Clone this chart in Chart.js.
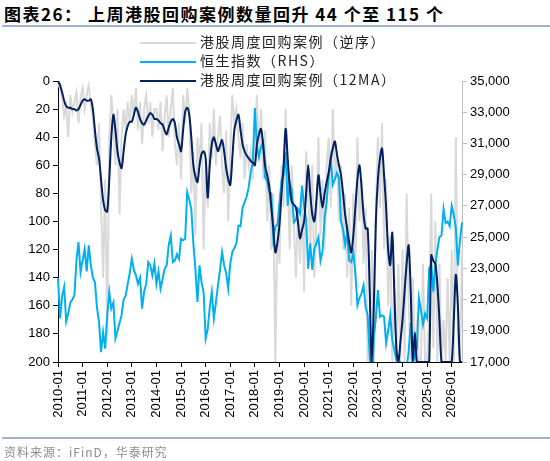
<!DOCTYPE html>
<html>
<head>
<meta charset="utf-8">
<script src="https://cdn.jsdelivr.net/npm/chart.js@4"></script>
<style>
  body { margin: 0; width: 550px; height: 461px; background: #fff; font-family: "Liberation Sans", "Noto Sans CJK SC", sans-serif; position: relative; overflow: hidden; }
  .title { position: absolute; left: 4px; top: 1px; font-size: 17px; font-weight: bold; font-family: "Noto Sans CJK SC", sans-serif; color: #000; letter-spacing: 1.5px; }
  .rule { position: absolute; left: 2px; right: 0; height: 2px; background: #9db3cf; }
  .source { position: absolute; left: 4px; top: 443px; font-size: 12px; color: #8c8c8c; font-family: "Noto Sans CJK SC", sans-serif; letter-spacing: 1px; }
  .legend { position: absolute; left: 140px; top: 32px; font-size: 14px; font-family: "Noto Sans CJK SC", sans-serif; color: #222; letter-spacing: 1.5px; }
  .legend div { height: 19px; line-height: 19px; white-space: nowrap; }
  .legend span { display: inline-block; width: 56px; height: 2px; vertical-align: middle; margin-right: 4px; }
  #wrap { position: absolute; left: 0; top: 30px; width: 550px; height: 410px; }
</style>
</head>
<body>
<div class="title">图表26：&nbsp;上周港股回购案例数量回升 44 个至 115 个</div>
<div class="rule" style="top:25px"></div>
<div id="wrap"><canvas id="chart"></canvas></div>
<div class="legend">
  <div><span style="background:#d9d9d9"></span>港股周度回购案例（逆序）</div>
  <div><span style="background:#00b0f0"></span>恒生指数（RHS）</div>
  <div><span style="background:#002060"></span>港股周度回购案例（12MA）</div>
</div>
<div class="rule" style="top:437px"></div>
<div class="source">资料来源：iFinD，华泰研究</div>
<script>
// monthly points, 2010-01 .. 2026-06
const years = [2010, 2011, 2012, 2013, 2014, 2015, 2016, 2017, 2018, 2019, 2020, 2021, 2022, 2023, 2024, 2025, 2026];

const buybackWeekly = [
  2, 5, 12, 25, 18, 40, 10, 22, 15, 8, 30, 12,
  5, 20, 10, 3, 18, 25, 45, 60, 30, 90, 140, 70,
  180, 40, 10, 30, 60, 20, 95, 40, 20, 35, 15, 30,
  10, 25, 5, 35, 15, 45, 20, 10, 30, 15, 40, 20,
  20, 35, 15, 50, 25, 10, 40, 20, 5, 45, 60, 30,
  70, 10, 30, 5, 20, 80, 50, 110, 40, 60, 30, 120,
  60, 90, 30, 55, 20, 60, 40, 25, 60, 80, 35, 100,
  50, 10, 30, 20, 40, 55, 30, 70, 45, 60, 50, 70,
  40, 10, 55, 20, 70, 35, 100, 60, 120, 80, 200, 100,
  130, 60, 90, 20, 70, 120, 60, 100, 140, 90, 130, 80,
  150, 50, 80, 120, 60, 140, 100, 40, 110, 70, 120, 60,
  40, 90, 20, 70, 50, 100, 60, 120, 80, 140, 90, 160,
  80, 140, 40, 100, 70, 130, 90, 200, 180, 120, 200, 90,
  40, 90, 30, 120, 70, 160, 110, 200, 140, 200, 130, 200,
  120, 200, 80, 160, 200, 140, 200, 170, 200, 200, 130, 200,
  200, 160, 80, 190, 100, 200, 130, 200, 170, 200, 140, 200,
  120, 200, 40, 180, 200, 120
];

const hsi = [
  22370, 19800, 21200, 21800, 19600, 20100, 20800, 21000, 21270, 23500, 24680, 22760,
  23500, 24250, 22800, 24470, 23200, 22400, 22120, 20500, 19570, 17630, 18900, 17850,
  20000, 21480, 20420, 20800, 18500, 19000, 19500, 20000, 21000, 21270, 22000, 22700,
  23620, 22900, 22550, 22000, 22400, 20420, 21500, 22000, 23400, 23200, 22550, 23300,
  22000, 22800, 21700, 22300, 22970, 23200, 24500, 25100, 23400, 23500, 23900, 23600,
  24890, 24800, 24900, 27880, 27400, 26810, 24600, 22970, 20850, 23190, 22100, 21480,
  18500, 19100, 20500, 21480, 19800, 20800, 21900, 22900, 24040, 23200, 22700, 21700,
  23300, 24040, 24300, 24600, 25740, 25700, 26900, 27240, 27600, 28200, 29200, 29800,
  33270, 30800, 30100, 30800, 31080, 28800, 28600, 27900, 27800, 24900, 25700, 25800,
  27200, 28600, 29000, 30440, 27000, 28500, 28000, 25950, 26100, 26800, 26500, 28300,
  27000, 26100, 22970, 24600, 22900, 24250, 24600, 25000, 23500, 24100, 26200, 27200,
  28950, 30000, 28350, 28700, 29100, 28800, 26000, 25500, 24500, 25300, 23500, 23400,
  24000, 22700, 20640, 21100, 21400, 21910, 20500, 20000, 17500, 15000, 18600, 19800,
  21600, 19900, 20000, 19900, 18200, 19000, 20000, 18400, 17800, 17100, 17000, 17000,
  15500, 16500, 16600, 17700, 19500, 18000, 17300, 17900, 21100, 20300, 19400, 20100,
  19800, 23000, 23200, 21500, 23200, 24200, 25000, 25100, 26800, 25900, 26000, 25700,
  27000, 26400, 25600, 23190, 24800, 25950
];

const buyback12MA = [
  0, 3, 8, 14, 18, 19, 19, 20, 20, 21, 20, 17,
  14, 13, 14, 14, 13, 20, 35, 48, 55, 70, 85, 92,
  93, 70, 40, 24, 35, 50, 58, 62, 50, 38, 32, 29,
  29, 24, 19, 22, 27, 30, 31, 28, 25, 23, 24, 27,
  27, 28, 30, 31, 35, 38, 33, 29, 27, 30, 40, 45,
  50, 35, 22, 19, 24, 40, 60, 68, 72, 60, 52, 50,
  55, 83, 60, 45, 40, 45, 50, 46, 42, 50, 62, 70,
  74, 55, 35, 28, 24, 35, 45, 50, 53, 55, 57, 58,
  60, 45, 38, 34, 45, 60, 67, 75, 90, 105, 122, 115,
  102, 80, 60, 34, 55, 75, 86, 88, 90, 100, 112, 106,
  100, 80, 60, 80, 95, 100, 85, 67, 80, 90, 80, 72,
  65, 55, 48, 43, 52, 60, 67, 80, 95, 105, 115, 122,
  110, 90, 70, 60, 75, 95, 105, 105, 150, 200, 160, 100,
  70, 55, 48, 67, 90, 120, 131, 108, 150, 190, 200, 185,
  170, 150, 130, 117, 150, 200, 179, 200, 200, 200, 200, 200,
  200, 200, 124, 128, 130, 145, 170, 200, 200, 200, 200, 200,
  200, 170, 138, 160, 200, 200
];

const labels = [];
years.forEach(function (y) {
  for (let m = 1; m <= 12; m++) {
    if (labels.length < hsi.length) labels.push(y + "-" + String(m).padStart(2, "0"));
  }
});

const font = { family: "Liberation Sans", size: 13 };

new Chart(document.getElementById("chart"), {
  type: "line",
  data: {
    labels: labels,
    datasets: [
      { label: "港股周度回购案例（逆序）", data: buybackWeekly, yAxisID: "y", borderColor: "#d9d9d9", borderWidth: 2, pointRadius: 0, tension: 0, order: 3 },
      { label: "恒生指数（RHS）", data: hsi, yAxisID: "y1", borderColor: "#00b0f0", borderWidth: 2, pointRadius: 0, tension: 0, order: 2 },
      { label: "港股周度回购案例（12MA）", data: buyback12MA, yAxisID: "y", borderColor: "#002060", borderWidth: 2, pointRadius: 0, tension: 0.3, order: 1 },
    ],
  },
  options: {
    responsive: true,
    maintainAspectRatio: false,
    animation: false,
    layout: { padding: { top: 51, left: 0, right: 0, bottom: 0 } },
    plugins: { legend: { display: false }, tooltip: { enabled: false } },
    scales: {
      x: {
        offset: false,
        grid: {
          drawOnChartArea: false,
          tickLength: 5,
          color: function (c) {
            const l = labels[c.index];
            return l && l.endsWith("-01") ? "#000" : "rgba(0,0,0,0)";
          },
        },
        border: { color: "#000" },
        ticks: {
          autoSkip: false,
          maxRotation: 90,
          minRotation: 90,
          color: "#000",
          font: font,
          callback: function (v, i) {
            return labels[i].endsWith("-01") ? labels[i] : "";
          },
        },
        afterFit: function (s) { s.height = 78; },
      },
      y: {
        position: "left",
        reverse: true,
        min: 0,
        max: 200,
        grid: { drawOnChartArea: false, tickLength: 5, color: "#000" },
        border: { color: "#000" },
        ticks: { stepSize: 20, color: "#000", font: font },
        afterFit: function (s) { s.width = 58; },
      },
      y1: {
        position: "right",
        min: 17000,
        max: 35000,
        grid: { drawOnChartArea: false, tickLength: 5, color: "#bfbfbf" },
        border: { color: "#bfbfbf" },
        ticks: {
          stepSize: 2000,
          color: "#000",
          font: font,
          callback: function (v) { return v.toLocaleString("en-US"); },
        },
        afterFit: function (s) { s.width = 88; },
      },
    },
  },
});
</script>
</body>
</html>
